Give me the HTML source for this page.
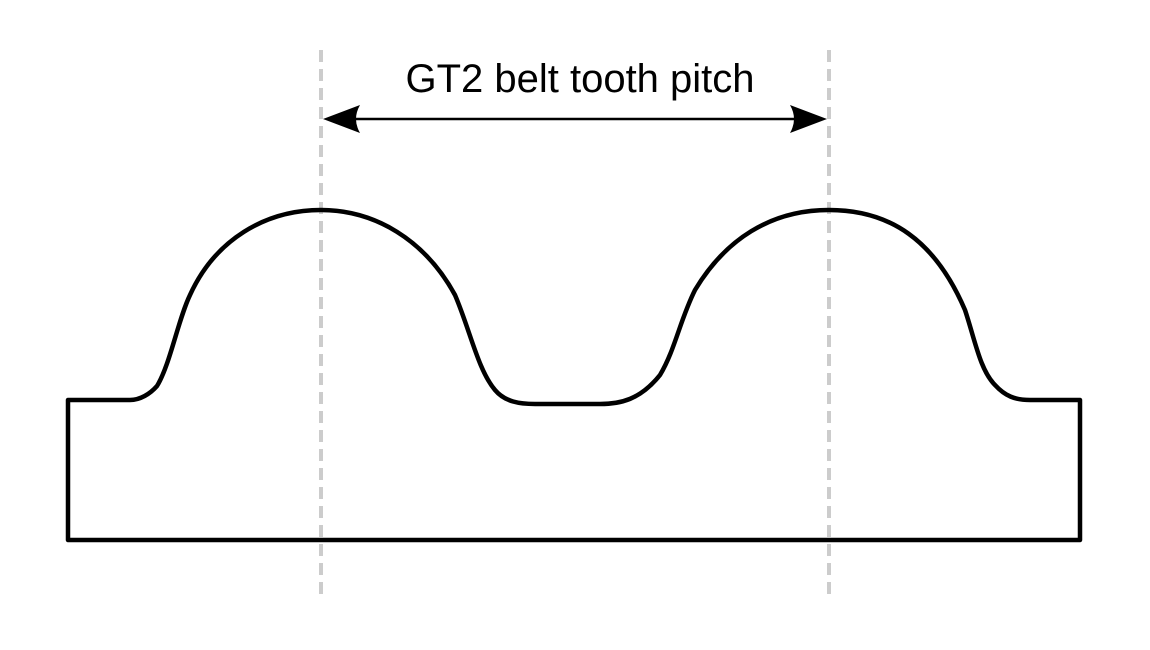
<!DOCTYPE html>
<html><head><style>html,body{margin:0;padding:0;background:#fff;}svg{display:block}</style></head>
<body>
<svg width="1150" height="650" viewBox="0 0 1150 650" xmlns="http://www.w3.org/2000/svg">
<rect width="1150" height="650" fill="#fff"/>
<line x1="321" y1="50" x2="321" y2="600" stroke="#cccccc" stroke-width="4" stroke-dasharray="12,7"/>
<line x1="829" y1="50" x2="829" y2="600" stroke="#cccccc" stroke-width="4" stroke-dasharray="12,7"/>
<path d="M68,400 L130,400 C140,400 150,394 157,386 C170,365 178,320 190,295 C215,240 265,210 321,210 C375,210 425,240 455,295 C470,330 478,370 495,390 C505,402 520,404 535,404 L600,404 C620,404 640,400 660,375 C675,350 680,320 695,290 C725,240 770,210 829,210 C890,210 935,240 965,310 C975,340 980,370 995,385 C1005,396 1015,400 1030,400 L1080,400 L1080,540 L68,540 Z" fill="none" stroke="#000" stroke-width="4.5" stroke-linejoin="round"/>
<line x1="345" y1="119" x2="805" y2="119" stroke="#000" stroke-width="2.5"/>
<path d="M323,119 L360,105 Q352,119 360,133 Z" fill="#000"/>
<path d="M827,119 L790,105 Q798,119 790,133 Z" fill="#000"/>
<text x="580" y="92" text-anchor="middle" font-family="Liberation Sans, Arial, sans-serif" font-size="40" fill="#000">GT2 belt tooth pitch</text>
</svg>
</body></html>
